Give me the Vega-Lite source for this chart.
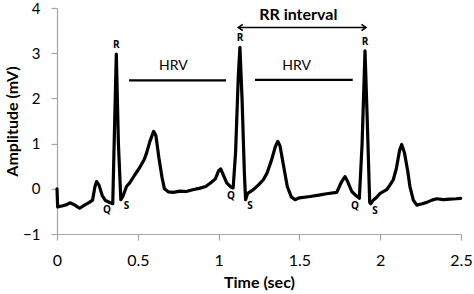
{
  "$schema": "https://vega.github.io/schema/vega-lite/v6.json",
  "width": 404,
  "height": 226,
  "autosize": {"type": "none"},
  "padding": {"left": 57, "top": 8, "right": 13, "bottom": 60},
  "background": "white",
  "config": {
    "view": {"stroke": null},
    "font": "Lato",
    "axis": {
      "grid": false,
      "domainColor": "#a6a6a6",
      "tickColor": "#a6a6a6",
      "domainWidth": 1.2,
      "tickWidth": 1.2,
      "tickSize": 6,
      "labelFont": "Lato",
      "labelFontSize": 16,
      "labelColor": "black",
      "titleFont": "Lato",
      "titleFontSize": 16,
      "titleFontWeight": "bold",
      "titleColor": "black"
    }
  },
  "datasets": {
    "ecg": [
      {"t": 0.000, "v": 0.00}, {"t": 0.004, "v": -0.40}, {"t": 0.03, "v": -0.38}, {"t": 0.06, "v": -0.35},
      {"t": 0.08, "v": -0.31}, {"t": 0.11, "v": -0.36}, {"t": 0.14, "v": -0.43}, {"t": 0.17, "v": -0.36},
      {"t": 0.20, "v": -0.30}, {"t": 0.22, "v": -0.25}, {"t": 0.235, "v": 0.05}, {"t": 0.245, "v": 0.16},
      {"t": 0.26, "v": 0.08}, {"t": 0.28, "v": -0.15}, {"t": 0.30, "v": -0.26}, {"t": 0.33, "v": -0.31},
      {"t": 0.345, "v": -0.33}, {"t": 0.355, "v": 1.2}, {"t": 0.367, "v": 2.98}, {"t": 0.38, "v": 1.0},
      {"t": 0.395, "v": -0.24}, {"t": 0.41, "v": -0.15}, {"t": 0.43, "v": 0.05}, {"t": 0.45, "v": 0.13},
      {"t": 0.48, "v": 0.3}, {"t": 0.51, "v": 0.46}, {"t": 0.54, "v": 0.65}, {"t": 0.555, "v": 0.8},
      {"t": 0.575, "v": 1.05}, {"t": 0.598, "v": 1.27}, {"t": 0.612, "v": 1.18}, {"t": 0.63, "v": 0.7},
      {"t": 0.65, "v": 0.25}, {"t": 0.665, "v": 0.0}, {"t": 0.69, "v": -0.07}, {"t": 0.72, "v": -0.08},
      {"t": 0.76, "v": -0.05}, {"t": 0.80, "v": -0.06}, {"t": 0.84, "v": -0.02}, {"t": 0.88, "v": 0.01},
      {"t": 0.92, "v": 0.05}, {"t": 0.95, "v": 0.13}, {"t": 0.98, "v": 0.22}, {"t": 1.00, "v": 0.40},
      {"t": 1.013, "v": 0.44}, {"t": 1.03, "v": 0.30}, {"t": 1.05, "v": 0.13}, {"t": 1.075, "v": 0.04},
      {"t": 1.09, "v": 0.02}, {"t": 1.105, "v": 0.8}, {"t": 1.122, "v": 2.5}, {"t": 1.132, "v": 3.13},
      {"t": 1.145, "v": 2.0}, {"t": 1.16, "v": 0.3}, {"t": 1.167, "v": -0.24}, {"t": 1.18, "v": -0.10},
      {"t": 1.215, "v": -0.02}, {"t": 1.25, "v": 0.1}, {"t": 1.277, "v": 0.2}, {"t": 1.30, "v": 0.35},
      {"t": 1.328, "v": 0.64}, {"t": 1.35, "v": 0.92}, {"t": 1.366, "v": 1.05}, {"t": 1.38, "v": 0.95},
      {"t": 1.40, "v": 0.55}, {"t": 1.425, "v": 0.05}, {"t": 1.45, "v": -0.18}, {"t": 1.473, "v": -0.24},
      {"t": 1.50, "v": -0.20}, {"t": 1.566, "v": -0.17}, {"t": 1.62, "v": -0.14}, {"t": 1.669, "v": -0.11},
      {"t": 1.731, "v": -0.08}, {"t": 1.76, "v": 0.15}, {"t": 1.782, "v": 0.27}, {"t": 1.80, "v": 0.15},
      {"t": 1.824, "v": -0.06}, {"t": 1.85, "v": -0.15}, {"t": 1.871, "v": -0.21}, {"t": 1.888, "v": 1.0},
      {"t": 1.906, "v": 3.05}, {"t": 1.92, "v": 1.5}, {"t": 1.935, "v": -0.3}, {"t": 1.941, "v": -0.33},
      {"t": 1.96, "v": -0.24}, {"t": 1.978, "v": -0.19}, {"t": 2.00, "v": -0.10}, {"t": 2.04, "v": -0.02},
      {"t": 2.06, "v": 0.08}, {"t": 2.081, "v": 0.2}, {"t": 2.10, "v": 0.45}, {"t": 2.12, "v": 0.85},
      {"t": 2.133, "v": 0.98}, {"t": 2.15, "v": 0.8}, {"t": 2.17, "v": 0.4}, {"t": 2.184, "v": 0.05},
      {"t": 2.205, "v": -0.25}, {"t": 2.226, "v": -0.36}, {"t": 2.26, "v": -0.33}, {"t": 2.288, "v": -0.30},
      {"t": 2.32, "v": -0.25}, {"t": 2.35, "v": -0.22}, {"t": 2.39, "v": -0.24}, {"t": 2.432, "v": -0.23},
      {"t": 2.47, "v": -0.22}, {"t": 2.498, "v": -0.21}
    ],
    "waves": [
      {"t": 0.367, "v": 3.18, "label": "R"}, {"t": 1.132, "v": 3.33, "label": "R"}, {"t": 1.906, "v": 3.25, "label": "R"},
      {"t": 0.31, "v": -0.48, "label": "Q"}, {"t": 1.077, "v": -0.16, "label": "Q"}, {"t": 1.844, "v": -0.38, "label": "Q"},
      {"t": 0.43, "v": -0.39, "label": "S"}, {"t": 1.194, "v": -0.39, "label": "S"}, {"t": 1.968, "v": -0.49, "label": "S"}
    ],
    "hrv": [
      {"t": 0.446, "t2": 1.046, "v": 2.4, "tc": 0.72, "vt": 2.72, "label": "HRV"},
      {"t": 1.225, "t2": 1.83, "v": 2.41, "tc": 1.483, "vt": 2.72, "label": "HRV"}
    ],
    "rr": [
      {"t": 1.122, "t2": 1.912, "v": 3.57, "tc": 1.493, "vt": 3.84, "label": "RR interval"}
    ],
    "rrEnds": [
      {"t": 1.122, "v": 3.57, "end": "left"},
      {"t": 1.912, "v": 3.57, "end": "right"}
    ]
  },
  "layer": [
    {
      "data": {"name": "ecg"},
      "mark": {"type": "line", "color": "black", "strokeWidth": 3.2, "strokeJoin": "round", "strokeCap": "round"},
      "encoding": {
        "x": {"field": "t", "type": "quantitative", "scale": {"domain": [0, 2.5], "nice": false},
              "axis": {"values": [0, 0.5, 1, 1.5, 2, 2.5], "format": "~g", "title": "Time (sec)", "labelPadding": 12, "titlePadding": 6, "labelFlush": false}},
        "y": {"field": "v", "type": "quantitative", "scale": {"domain": [-1, 4], "nice": false},
              "axis": {"values": [-1, 0, 1, 2, 3, 4], "format": "~g", "title": "Amplitude (mV)", "labelFontSize": 15, "labelPadding": 11, "titlePadding": 2, "labelFlush": false}}
      }
    },
    {
      "data": {"name": "waves"},
      "mark": {"type": "text", "font": "Open Sans", "fontSize": 10, "fontWeight": "bold", "color": "black"},
      "encoding": {
        "x": {"field": "t", "type": "quantitative"},
        "y": {"field": "v", "type": "quantitative"},
        "text": {"field": "label"}
      }
    },
    {
      "data": {"name": "hrv"},
      "mark": {"type": "rule", "color": "black", "strokeWidth": 2.2},
      "encoding": {
        "x": {"field": "t", "type": "quantitative"},
        "x2": {"field": "t2"},
        "y": {"field": "v", "type": "quantitative"}
      }
    },
    {
      "data": {"name": "hrv"},
      "mark": {"type": "text", "fontSize": 14, "color": "black"},
      "encoding": {
        "x": {"field": "tc", "type": "quantitative"},
        "y": {"field": "vt", "type": "quantitative"},
        "text": {"field": "label"}
      }
    },
    {
      "data": {"name": "rr"},
      "mark": {"type": "rule", "color": "black", "strokeWidth": 1.6},
      "encoding": {
        "x": {"field": "t", "type": "quantitative"},
        "x2": {"field": "t2"},
        "y": {"field": "v", "type": "quantitative"}
      }
    },
    {
      "data": {"name": "rr"},
      "mark": {"type": "text", "fontSize": 16, "fontWeight": "bold", "color": "black"},
      "encoding": {
        "x": {"field": "tc", "type": "quantitative"},
        "y": {"field": "vt", "type": "quantitative"},
        "text": {"field": "label"}
      }
    },
    {
      "data": {"name": "rrEnds"},
      "mark": {"type": "point", "filled": false, "color": "black", "strokeWidth": 1.6, "size": 80, "opacity": 1},
      "encoding": {
        "x": {"field": "t", "type": "quantitative"},
        "y": {"field": "v", "type": "quantitative"},
        "shape": {"field": "end", "type": "nominal", "legend": null,
                  "scale": {"domain": ["left", "right"], "range": ["M1,-0.7L0,0L1,0.7", "M-1,-0.7L0,0L-1,0.7"]}}
      }
    }
  ]
}
